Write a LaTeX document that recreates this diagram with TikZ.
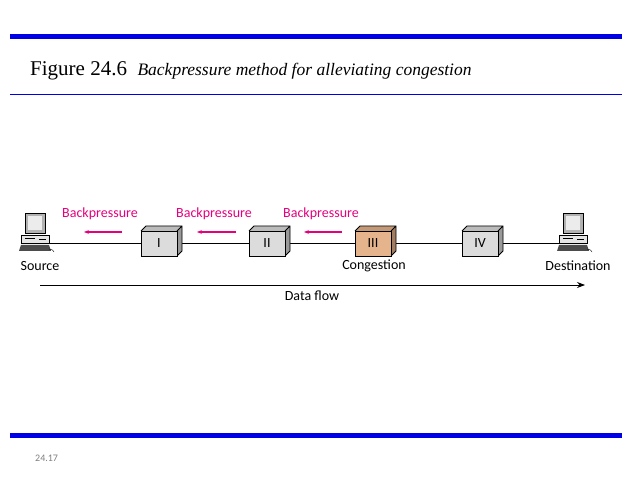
\documentclass[tikz,border=0pt]{standalone}
\usepackage{fontspec}
\setmainfont{Liberation Serif}
\newfontfamily\sfl{Carlito}
\usetikzlibrary{arrows.meta}
\definecolor{barblue}{RGB}{0,0,230}
\definecolor{bpink}{RGB}{230,0,126}
\definecolor{cong}{RGB}{230,180,140}
\definecolor{grey}{RGB}{220,220,220}
\tikzset{
  router/.style={draw,thick,minimum width=36pt,minimum height=25pt,inner sep=0pt,font=\sfl\fontsize{14}{16}\selectfont},
  lbl/.style={font=\sfl\fontsize{14}{16}\selectfont,inner sep=0pt},
  bp/.style={font=\sfl\fontsize{14}{16}\selectfont,text=bpink,inner sep=0pt},
  bparrow/.style={bpink,line width=1.3pt,-{Stealth[length=5pt]}}
}
\newcommand{\cube}[4]{% name, x, label, color
  \fill[#4!70!black] (#2+18,231) -- (#2+23,226) -- (#2+23,251) -- (#2+18,256) -- cycle;
  \fill[#4!85!black] (#2-18,231) -- (#2-13,226) -- (#2+23,226) -- (#2+18,231) -- cycle;
  \draw[thick] (#2-18,231) -- (#2-13,226) -- (#2+23,226) -- (#2+23,251) -- (#2+18,256) (#2+18,231) -- (#2+23,226);
  \node[router,fill=#4] (#1) at (#2,243.5) {#3};
}
\newcommand{\computer}[2]{% name, x
  \fill[gray!60] (#2-12,213) rectangle (#2+8,233);
  \draw (#2-12,213) rectangle (#2+8,233);
  \fill[gray!15] (#2-9,216) rectangle (#2+5,230);
  \draw[fill=gray!20] (#2-16,235) rectangle (#2+12,243);
  \draw (#2-12,238) -- (#2-2,238) (#2+2,239) -- (#2+9,239);
  \fill[black!70] (#2-16,245) -- (#2+12,245) -- (#2+14,251) -- (#2-18,251) -- cycle;
  \draw (#2+12,249) .. controls (#2+16,250) .. (#2+17,252);
  \coordinate (#1) at (#2+12,243);
}
\begin{document}
\begin{tikzpicture}[x=1pt,y=-1pt]
\useasboundingbox (0,0) rectangle (638,478);
\fill[white] (0,0) rectangle (638,478);
\fill[barblue] (10,34) rectangle (622,39);
\draw[barblue,line width=0.8pt] (10,94) -- (622,94);
\fill[barblue] (10,433) rectangle (622,438);
\node[anchor=west,inner sep=0pt,font=\fontsize{21}{24}\selectfont] (title) at (30,71) {Figure 24.6\ \ {\itshape\fontsize{17.5}{20}\selectfont Backpressure method for alleviating congestion}};
\node[anchor=west,font=\sfl\fontsize{10}{12}\selectfont,text=gray,inner sep=0pt] (pg) at (35,458) {24.17};
\computer{src}{37}
\computer{dst}{575}
\coordinate (dstin) at (561,243);
\draw[thick] (src) -- (dstin);
\cube{r1}{159}{I}{grey}
\cube{r2}{267}{II}{grey}
\cube{r3}{373}{III}{cong}
\cube{r4}{480}{IV}{grey}
\node[lbl] (srcl) at (40,266) {Source};
\node[lbl] (cgl) at (374,266) {Congestion};
\node[lbl] (dstl) at (578,266) {Destination};
\node[bp] (b1) at (100,214) {Backpressure};
\node[bp] (b2) at (214,214) {Backpressure};
\node[bp] (b3) at (321,214) {Backpressure};
\coordinate (a1s) at (122,232); \coordinate (a1e) at (84,232);
\coordinate (a2s) at (236,232); \coordinate (a2e) at (197,232);
\coordinate (a3s) at (342,232); \coordinate (a3e) at (304,232);
\draw[bparrow] (a1s) -- (a1e);
\draw[bparrow] (a2s) -- (a2e);
\draw[bparrow] (a3s) -- (a3e);
\coordinate (dfs) at (40,285); \coordinate (dfe) at (585,285);
\draw[thick,-{Stealth[length=8pt]}] (dfs) -- (dfe);
\node[lbl] (df) at (312,296) {Data flow};
\end{tikzpicture}
\end{document}
